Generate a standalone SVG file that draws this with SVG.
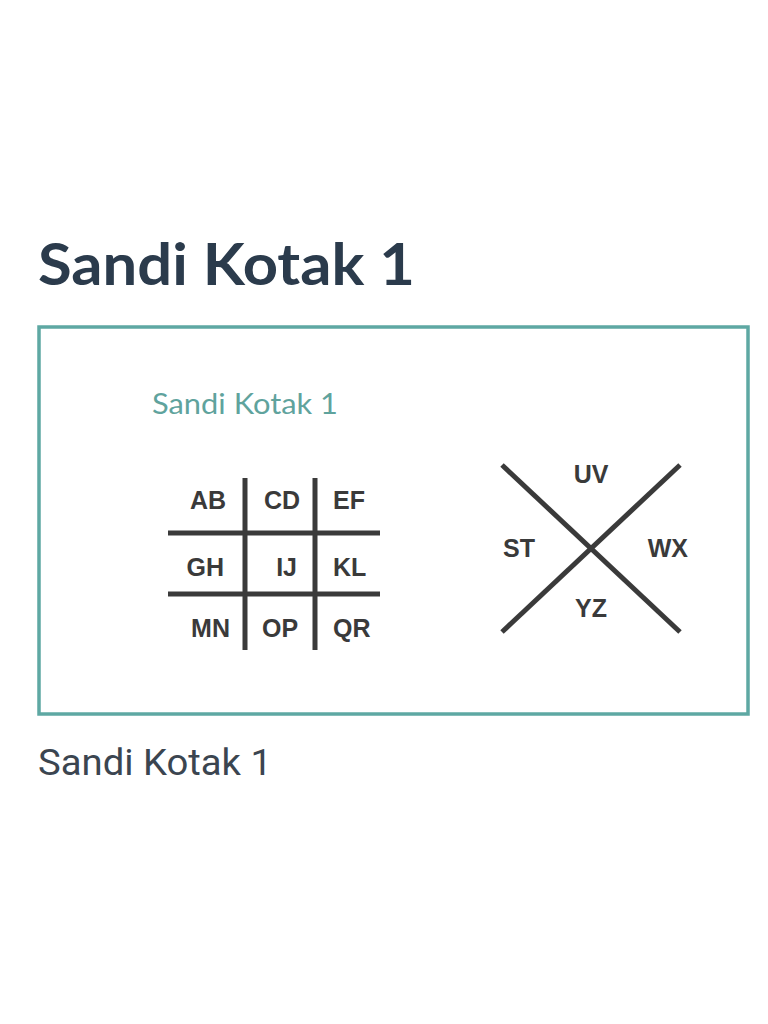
<svg xmlns="http://www.w3.org/2000/svg" width="768" height="1024" viewBox="0 0 768 1024">
<style>
.title{font-family:Lato,"Open Sans",sans-serif;font-weight:700;font-size:58px;fill:#2b3b4c}
.sub{font-family:Lato,"Open Sans",sans-serif;font-weight:400;font-size:28px;fill:#5fa39d}
.cap{font-family:Roboto,"Liberation Sans",sans-serif;font-size:36px;fill:#3b4550}
.l{font-family:"Liberation Sans",Arial,sans-serif;font-weight:700;font-size:25px;fill:#3a3a3a}
.ln{stroke:#3a3a3a;stroke-width:5;fill:none}
</style>
<rect width="768" height="1024" fill="#ffffff"/>
<text class="title" x="38" y="285" textLength="377" lengthAdjust="spacingAndGlyphs">Sandi Kotak 1</text>
<rect x="39" y="327" width="709" height="387" fill="none" stroke="#5ea8a3" stroke-width="3.5"/>
<text class="sub" x="152" y="414" textLength="186" lengthAdjust="spacingAndGlyphs">Sandi Kotak 1</text>
<g id="grid">
<line class="ln" x1="245" y1="478" x2="245" y2="650"/>
<line class="ln" x1="315" y1="478" x2="315" y2="650"/>
<line class="ln" x1="168" y1="533" x2="380" y2="533"/>
<line class="ln" x1="168" y1="594" x2="380" y2="594"/>
<text class="l" x="226" y="509" text-anchor="end">AB</text>
<text class="l" x="282" y="509" text-anchor="middle">CD</text>
<text class="l" x="333" y="509">EF</text>
<text class="l" x="224" y="576" text-anchor="end">GH</text>
<text class="l" x="297" y="576" text-anchor="end">IJ</text>
<text class="l" x="333" y="576">KL</text>
<text class="l" x="230" y="637" text-anchor="end">MN</text>
<text class="l" x="280" y="637" text-anchor="middle">OP</text>
<text class="l" x="333" y="637">QR</text>
</g>
<g id="cross">
<line class="ln" x1="502" y1="465" x2="680" y2="632"/>
<line class="ln" x1="680" y1="465" x2="502" y2="632"/>
<text class="l" x="591" y="483" text-anchor="middle">UV</text>
<text class="l" x="503" y="557">ST</text>
<text class="l" x="688" y="557" text-anchor="end">WX</text>
<text class="l" x="591" y="617" text-anchor="middle">YZ</text>
</g>
<text class="cap" x="38" y="775" textLength="234" lengthAdjust="spacingAndGlyphs">Sandi Kotak 1</text>
</svg>
